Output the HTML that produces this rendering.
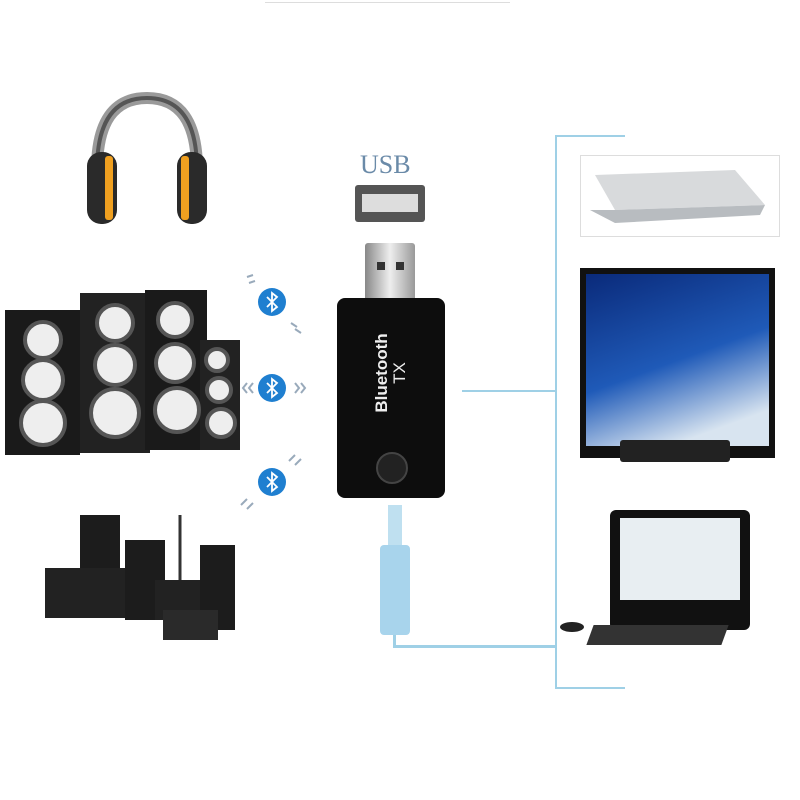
<!DOCTYPE html>
<html><head><meta charset="utf-8"><style>
body{margin:0;width:800px;height:800px;background:#fff;position:relative;overflow:hidden;font-family:"Liberation Sans",sans-serif}
.a{position:absolute}
.ln{position:absolute;background:#9fd0e6}
</style></head><body>
<div class="a" style="left:265px;top:2px;width:245px;height:1px;background:#ddd"></div>
<!-- headphones -->
<svg class="a" style="left:75px;top:90px" width="145" height="140">
<path d="M22 80 Q22 8 72 8 Q122 8 122 80" fill="none" stroke="#9a9a9a" stroke-width="12"/>
<path d="M22 80 Q22 8 72 8 Q122 8 122 80" fill="none" stroke="#555" stroke-width="4"/>
<rect x="12" y="62" width="30" height="72" rx="14" fill="#2a2a2a"/>
<rect x="30" y="66" width="8" height="64" rx="3" fill="#f0a020"/>
<rect x="102" y="62" width="30" height="72" rx="14" fill="#2a2a2a"/>
<rect x="106" y="66" width="8" height="64" rx="3" fill="#f0a020"/>
</svg>
<!-- speakers -->
<svg class="a" style="left:5px;top:285px" width="240" height="175">
<rect x="0" y="25" width="75" height="145" fill="#1a1a1a"/>
<rect x="75" y="8" width="70" height="160" fill="#222"/>
<rect x="140" y="5" width="62" height="160" fill="#1a1a1a"/>
<rect x="195" y="55" width="40" height="110" fill="#222"/>
<g fill="#eee" stroke="#555" stroke-width="4">
<circle cx="38" cy="55" r="18"/><circle cx="38" cy="95" r="20"/><circle cx="38" cy="138" r="22"/>
<circle cx="110" cy="38" r="18"/><circle cx="110" cy="80" r="20"/><circle cx="110" cy="128" r="24"/>
<circle cx="170" cy="35" r="17"/><circle cx="170" cy="78" r="19"/><circle cx="172" cy="125" r="22"/>
<circle cx="212" cy="75" r="11"/><circle cx="214" cy="105" r="12"/><circle cx="216" cy="138" r="14"/>
</g></svg>
<!-- PA speakers -->
<svg class="a" style="left:45px;top:510px" width="195" height="135">
<rect x="35" y="5" width="40" height="60" fill="#1c1c1c"/>
<rect x="0" y="58" width="80" height="50" fill="#222"/>
<rect x="80" y="30" width="40" height="80" fill="#1c1c1c"/>
<line x1="135" y1="5" x2="135" y2="80" stroke="#333" stroke-width="3"/>
<rect x="110" y="70" width="50" height="40" fill="#222"/>
<rect x="155" y="35" width="35" height="85" fill="#1c1c1c"/>
<rect x="118" y="100" width="55" height="30" fill="#2a2a2a"/>
</svg>
<!-- bluetooth icons -->
<svg class="a" style="left:235px;top:265px" width="80" height="245">
<g fill="#1f7fd0"><circle cx="37" cy="37" r="14"/><circle cx="37" cy="123" r="14"/><circle cx="37" cy="217" r="14"/></g>
<g fill="none" stroke="#fff" stroke-width="1.8">
<path d="M32 32 L42 42 L37 46 L37 28 L42 32 L32 42"/>
<path d="M32 118 L42 128 L37 132 L37 114 L42 118 L32 128"/>
<path d="M32 212 L42 222 L37 226 L37 208 L42 212 L32 222"/>
</g>
<g fill="none" stroke="#9ab" stroke-width="2">
<path d="M12 12 l6 -2 M14 18 l6 -2"/><path d="M56 58 l6 4 M60 64 l6 4"/>
<path d="M12 118 l-4 5 l4 5 M18 118 l-4 5 l4 5"/><path d="M60 118 l4 5 l-4 5 M66 118 l4 5 l-4 5"/>
<path d="M6 240 l6 -6 M12 244 l6 -6"/><path d="M54 196 l6 -6 M60 200 l6 -6"/>
</g></svg>
<!-- USB -->
<div class="a" style="left:360px;top:150px;font-family:'Liberation Serif',serif;font-size:26px;color:#6a8aa8">USB</div>
<div class="a" style="left:355px;top:185px;width:70px;height:37px;background:#555;border-radius:3px"></div>
<div class="a" style="left:362px;top:194px;width:56px;height:18px;background:#ddd"></div>
<!-- dongle -->
<div class="a" style="left:365px;top:243px;width:50px;height:60px;background:linear-gradient(90deg,#888,#eee,#999);border-radius:3px"></div>
<div class="a" style="left:377px;top:262px;width:8px;height:8px;background:#333"></div>
<div class="a" style="left:396px;top:262px;width:8px;height:8px;background:#333"></div>
<div class="a" style="left:337px;top:298px;width:108px;height:200px;background:#0d0d0d;border-radius:8px"></div>
<div class="a" style="left:345px;top:355px;width:92px;color:#eee;font-size:17px;font-weight:bold;transform:rotate(-90deg);transform-origin:center;text-align:center;line-height:18px">Bluetooth<br><span style="font-weight:normal">TX</span></div>
<div class="a" style="left:376px;top:452px;width:28px;height:28px;border-radius:50%;background:#222;border:2px solid #444"></div>
<!-- jack -->
<div class="a" style="left:388px;top:505px;width:14px;height:40px;background:#bfe0f0"></div>
<div class="a" style="left:380px;top:545px;width:30px;height:90px;background:#a8d4ec;border-radius:4px"></div>
<!-- lines -->
<div class="ln" style="left:393px;top:635px;width:3px;height:12px"></div>
<div class="ln" style="left:393px;top:645px;width:163px;height:3px"></div>
<div class="ln" style="left:555px;top:135px;width:2px;height:553px"></div>
<div class="ln" style="left:555px;top:135px;width:70px;height:2px"></div>
<div class="ln" style="left:555px;top:687px;width:70px;height:2px"></div>
<div class="ln" style="left:462px;top:390px;width:94px;height:2px"></div>
<!-- laptop -->
<div class="a" style="left:580px;top:155px;width:198px;height:80px;border:1px solid #ddd"></div>
<svg class="a" style="left:585px;top:165px" width="190" height="65">
<path d="M10 10 L150 5 L180 40 L30 45 Z" fill="#d8dadc"/>
<path d="M5 45 L30 45 L180 40 L175 50 L30 58 Z" fill="#b8bcc0"/>
</svg>
<!-- TV -->
<div class="a" style="left:580px;top:268px;width:195px;height:190px;background:#111"></div>
<div class="a" style="left:586px;top:274px;width:183px;height:172px;background:linear-gradient(160deg,#0a2a7a,#1f5ab8 50%,#d8e4f0 85%)"></div>
<div class="a" style="left:620px;top:440px;width:110px;height:22px;background:#222;border-radius:3px"></div>
<!-- computer -->
<div class="a" style="left:610px;top:510px;width:140px;height:120px;background:#111;border-radius:6px"></div>
<div class="a" style="left:620px;top:518px;width:120px;height:82px;background:#e8eef2"></div>
<div class="a" style="left:590px;top:625px;width:135px;height:20px;background:#333;transform:skewX(-20deg)"></div>
<div class="a" style="left:560px;top:622px;width:24px;height:10px;background:#222;border-radius:50%"></div>
</body></html>
